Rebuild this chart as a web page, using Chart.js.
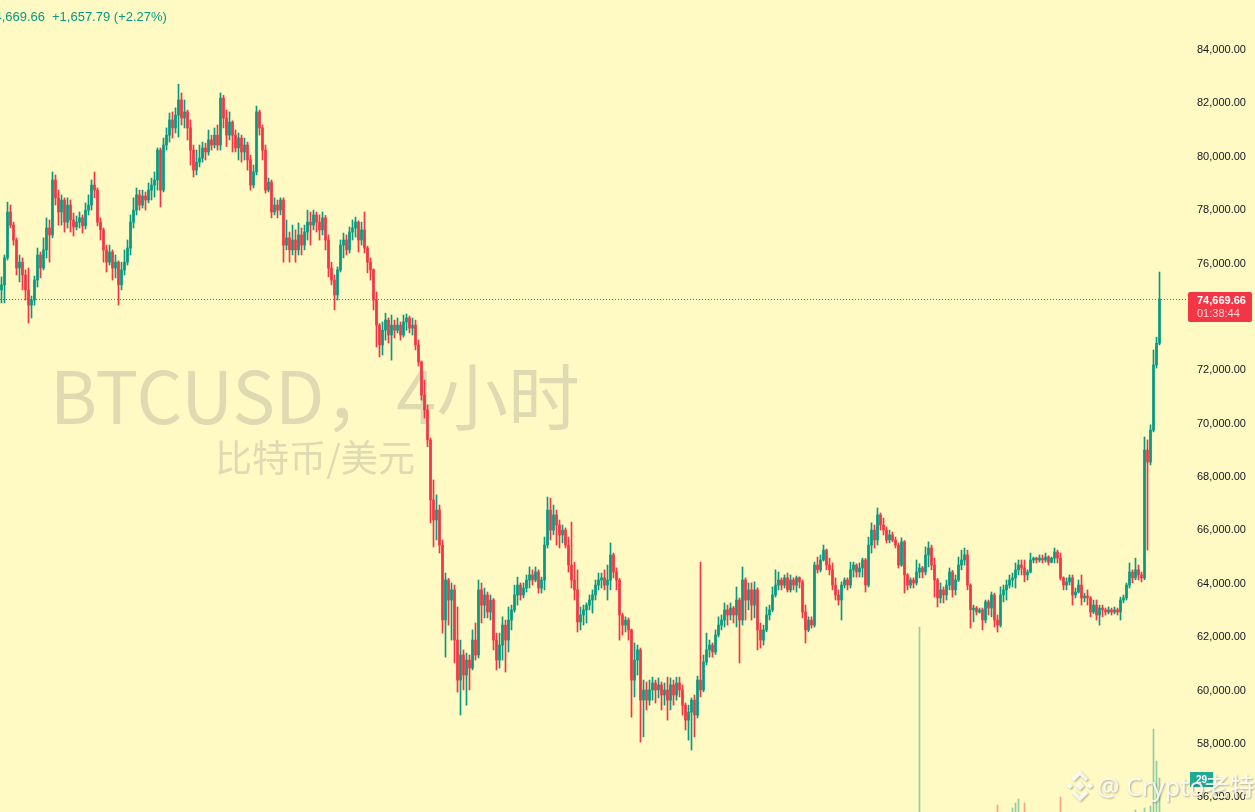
<!DOCTYPE html>
<html>
<head>
<meta charset="utf-8">
<title>BTCUSD 4小时</title>
<script src="https://cdn.jsdelivr.net/npm/chart.js@4.4.1/dist/chart.umd.min.js"></script>
<style>
  html, body { margin: 0; padding: 0; background: #fff9c4; }
  #wrap { width: 1255px; height: 812px; position: relative; }
</style>
</head>
<body>
<div id="wrap"><canvas id="btcChart"></canvas></div>
<script>
// 4小时 K线
const opens = [
  75010, 75200, 76210, 77930, 77440, 76880, 75830, 76050, 75570, 75010,
  74440, 74630, 75380, 76320, 75830, 76510, 77330, 77070, 79130, 78460,
  77930, 78380, 77550, 78190, 77630, 77370, 77550, 77710, 77410, 78000,
  78190, 78940, 78750, 77550, 77260, 76510, 76050, 76430, 75830, 76050,
  75200, 75760, 76050, 76580, 77550, 78000, 78570, 78190, 78530, 78380,
  78750, 78940, 79130, 80250, 78750, 80440, 80810, 81380, 81080, 81560,
  82130, 81450, 81680, 81080, 80250, 79500, 79800, 79950, 80330, 80180,
  80630, 80440, 80810, 80440, 82200, 81450, 80810, 81300, 80810, 80330,
  80700, 80180, 80440, 79880, 78940, 79430, 81680, 81080, 80250, 78750,
  79050, 77930, 78190, 78000, 78380, 76690, 76960, 76510, 76880, 76510,
  77070, 76690, 77180, 77550, 77440, 77820, 77550, 77260, 77710, 76880,
  75830, 75380, 74820, 75760, 76690, 76880, 76510, 77180, 77330, 77550,
  76880, 77260, 76580, 76050, 75760, 74630, 73690, 72950, 73500, 73880,
  73320, 73690, 73500, 73690, 73320, 73810, 73960, 73580, 73690, 72950,
  72310, 71070, 70510, 69390, 67140, 66390, 66760, 65450, 62640, 64140,
  63390, 63770, 61890, 60390, 61330, 60580, 61140, 60840, 61890, 61330,
  63770, 63200, 63580, 62940, 63390, 61890, 61140, 61700, 62450, 61890,
  62640, 63020, 63580, 63950, 63580, 63840, 64140, 64330, 64140, 64440,
  63840, 64140, 65450, 66760, 66010, 66580, 66200, 65830, 66010, 65450,
  64700, 64140, 63770, 62570, 62830, 63020, 63200, 63390, 63580, 63950,
  64140, 64220, 63950, 64140, 65080, 64440, 64140, 62830, 62450, 62640,
  62270, 60390, 61140, 61520, 59640, 60020, 59640, 60020, 60280, 60020,
  60210, 59830, 60020, 59640, 60210, 59830, 60280, 60020, 59450, 58890,
  59190, 59640, 59080, 60390, 60020, 61070, 61520, 61700, 61440, 62080,
  62450, 62640, 63020, 62830, 63090, 62830, 63390, 62640, 64140, 63390,
  63770, 63200, 63770, 62270, 61890, 62270, 62830, 63020, 63580, 63950,
  64140, 63950, 64220, 63770, 64140, 63950, 64220, 64070, 62940, 62270,
  62640, 62450, 64700, 64520, 64890, 65260, 64700, 64520, 63950, 63580,
  63390, 63950, 64140, 63950, 64520, 64700, 64440, 64590, 64890, 63950,
  65450, 66010, 65640, 66580, 66200, 66010, 65640, 65830, 65640, 65450,
  64700, 65570, 64330, 63950, 64140, 64030, 64440, 64590, 64440, 65080,
  65340, 64700, 64140, 63470, 63770, 63580, 63950, 64440, 63770, 64140,
  64700, 64890, 65080, 63950, 63020, 63090, 62940, 63020, 62640, 63320,
  63090, 63580, 62640, 62450, 63580, 63770, 63950, 64140, 64220, 64520,
  64700, 64590, 64330, 64440, 64890, 64960, 64890, 64960, 64890, 65000,
  64810, 64960, 65190, 64960, 64220, 63950, 64070, 64220, 63580, 63690,
  63950, 63470, 63540, 63470, 62940, 63200, 62830, 63090, 63020, 62940,
  63020, 62940, 63020, 62940, 63390, 63470, 63950, 64440, 64220, 64520,
  64330, 64220, 69010, 68560, 69760, 72200, 73011.87
];
const highs = [
  75500, 76320, 78300, 78190, 77550, 76960, 76320, 76210, 75760, 75830,
  74780, 75530, 76580, 76430, 76960, 77710, 77630, 79430, 79320, 78750,
  78570, 78460, 78460, 78380, 77890, 77780, 77930, 77820, 78270, 78570,
  79130, 79430, 78830, 77710, 77330, 76690, 76690, 76510, 76320, 76100,
  76050, 76510, 76880, 77820, 78460, 78830, 78750, 78750, 78680, 79020,
  79200, 79430, 80330, 80330, 80700, 81080, 81640, 81680, 81830, 82720,
  82390, 82130, 81750, 81380, 80440, 80250, 80440, 80550, 80510, 81000,
  80810, 81080, 81190, 82390, 82300, 81750, 81680, 81350, 81000, 80890,
  80810, 80700, 80550, 80060, 79690, 81900, 81750, 81190, 80440, 79200,
  79130, 78460, 78380, 78460, 78460, 77630, 77180, 77440, 77260, 77520,
  77330, 77440, 78000, 77930, 78000, 77930, 77820, 77930, 77800, 77070,
  76050, 75570, 75870, 76880, 77140, 77070, 77370, 77630, 77740, 77600,
  77550, 77930, 76650, 76210, 75800, 74930, 73750, 73810, 74140, 73960,
  74070, 73880, 73960, 73810, 74070, 74110, 74030, 73960, 73880, 73130,
  72350, 71630, 70700, 69460, 67890, 67330, 66950, 65640, 64400, 64200,
  64030, 63950, 63130, 61890, 61520, 61400, 61330, 62270, 62530, 64140,
  64030, 63840, 63690, 63580, 63450, 62150, 62150, 62760, 62640, 63130,
  63200, 63950, 64250, 64030, 64030, 64330, 64630, 64520, 64630, 64520,
  64250, 65750, 67250, 67210, 66950, 66760, 66390, 66200, 66090, 65750,
  66310, 64810, 64520, 63130, 63200, 63280, 63580, 63770, 64140, 64400,
  64400, 64520, 64700, 65530, 65150, 64590, 64200, 62900, 62760, 62720,
  62300, 61780, 61700, 61590, 60390, 60320, 60390, 60500, 60390, 60470,
  60320, 60280, 60500, 60470, 60390, 60500, 60500, 60210, 59530, 59450,
  59720, 59830, 60540, 64810, 61330, 62150, 61890, 61780, 62270, 62760,
  62830, 63280, 63200, 63280, 63150, 63880, 63470, 64630, 64220, 64030,
  64030, 64070, 63850, 62530, 62450, 63130, 63200, 63880, 64520, 64440,
  64220, 64330, 64400, 64330, 64220, 64290, 64260, 64140, 63200, 62760,
  62760, 64810, 65000, 65080, 65450, 65300, 64960, 64780, 64220, 63770,
  64070, 64220, 64220, 64810, 64810, 64750, 64780, 64960, 64950, 65750,
  66280, 66200, 66840, 66650, 66460, 66130, 66010, 65940, 65750, 65530,
  65720, 65620, 64380, 64220, 64220, 64890, 64750, 64650, 65380, 65570,
  65450, 64960, 64200, 64030, 63880, 64140, 64590, 64500, 64330, 65000,
  65260, 65340, 65260, 64000, 63200, 63150, 63090, 63090, 63390, 63390,
  63690, 63650, 62830, 63880, 63950, 64140, 64330, 64400, 64780, 64890,
  64890, 64890, 64520, 65150, 65000, 65000, 65080, 65080, 65150, 65050,
  65000, 65340, 65260, 65150, 64260, 64220, 64330, 64330, 63840, 64140,
  64330, 63650, 63770, 63520, 63390, 63390, 63200, 63200, 63090, 63130,
  63090, 63130, 63090, 63500, 63580, 64030, 64780, 64520, 64960, 64700,
  64440, 69500, 69390, 69950, 72760, 73240, 75680
];
const lows = [
  74520, 74520, 76130, 77330, 76690, 75570, 75310, 75010, 74630, 73770,
  73960, 74440, 75120, 75460, 75760, 76210, 76050, 76960, 78190, 77440,
  77440, 77180, 77330, 77180, 77030, 77260, 77330, 77140, 77290, 77820,
  78000, 78460, 77410, 76880, 76050, 75680, 75940, 75380, 75460, 74440,
  75010, 75570, 75940, 76320, 77330, 77820, 78000, 78080, 78000, 78270,
  78380, 78490, 78750, 78120, 78680, 80250, 80550, 80700, 80890, 80740,
  81190, 81080, 80630, 79690, 79240, 79320, 79620, 79800, 79880, 80060,
  80250, 80330, 80250, 80250, 81080, 80380, 80630, 80180, 80180, 79880,
  79800, 79880, 79500, 78750, 78830, 79320, 80810, 79880, 78640, 78680,
  77710, 77820, 77710, 77820, 76050, 76510, 76050, 76320, 76050, 76320,
  76320, 76510, 76880, 76690, 77260, 77180, 76880, 77070, 76510, 75500,
  75200, 74260, 74630, 75680, 76210, 76320, 76390, 76880, 76990, 76430,
  76690, 76390, 75650, 75380, 74260, 72870, 72500, 72570, 73130, 73020,
  72380, 73210, 73400, 73130, 73240, 73500, 73400, 73320, 72760, 72160,
  70880, 70210, 69130, 66280, 65380, 65640, 65150, 62150, 61250, 62450,
  61890, 61030, 59940, 59080, 60020, 59450, 60020, 60770, 61140, 61220,
  62530, 62720, 62720, 62640, 61520, 60770, 60840, 61140, 60690, 61440,
  62270, 62940, 63200, 63390, 63470, 63690, 63840, 63950, 64070, 63650,
  63650, 63770, 65340, 65640, 65830, 65450, 65340, 65530, 65340, 64440,
  63840, 63390, 62190, 62270, 62450, 62530, 63020, 62900, 63390, 63770,
  63840, 63770, 63390, 63770, 64220, 63770, 61890, 62080, 62190, 61890,
  59000, 59760, 60580, 58070, 58260, 59270, 59450, 59640, 59530, 59720,
  59270, 59450, 58890, 59270, 59450, 59640, 59760, 59080, 58520, 58140,
  57770, 58260, 58970, 59760, 59950, 60960, 61250, 61250, 61350, 62000,
  62270, 62380, 62450, 62640, 62530, 62380, 61030, 62450, 62640, 63020,
  62640, 62720, 61520, 61590, 61700, 62200, 62640, 62950, 63500, 63770,
  63770, 63840, 63690, 63690, 63770, 63690, 63840, 62720, 61780, 62200,
  62340, 62380, 64400, 64440, 64850, 64520, 64330, 63770, 63390, 63200,
  62640, 63840, 63770, 63840, 64250, 64250, 64250, 64250, 63690, 63880,
  65150, 65340, 65450, 66010, 65830, 65530, 65530, 65570, 65340, 64590,
  64650, 63650, 63770, 63840, 63840, 63950, 64220, 64220, 64330, 64630,
  64520, 63500, 63130, 63280, 63280, 63390, 63770, 63500, 63580, 64080,
  64520, 64700, 63770, 62340, 62570, 62830, 62900, 62270, 62530, 62830,
  62760, 62380, 62190, 62380, 63320, 63390, 63840, 63880, 63840, 64330,
  64330, 64070, 64140, 64400, 64780, 64780, 64810, 64780, 64810, 64700,
  64780, 64780, 64780, 64140, 63770, 63770, 63950, 63200, 63470, 63650,
  63200, 63320, 63200, 62760, 62880, 62640, 62450, 62760, 62830, 62870,
  62830, 62870, 62830, 62640, 63280, 63390, 63840, 64030, 64150, 64140,
  64070, 64150, 65260, 68450, 69690, 72080, 72950
];
const closes = [
  75200, 76210, 77930, 77440, 76880, 75830, 76050, 75570, 75010, 74440,
  74630, 75380, 76320, 75830, 76510, 77330, 77070, 79130, 78460, 77930,
  78380, 77550, 78190, 77630, 77370, 77550, 77710, 77410, 78000, 78190,
  78940, 78750, 77550, 77260, 76510, 76050, 76430, 75830, 76050, 75200,
  75760, 76050, 76580, 77550, 78000, 78570, 78190, 78530, 78380, 78750,
  78940, 79130, 80250, 78750, 80440, 80810, 81380, 81080, 81560, 82130,
  81450, 81680, 81080, 80250, 79500, 79800, 79950, 80330, 80180, 80630,
  80440, 80810, 80440, 82200, 81450, 80810, 81300, 80810, 80330, 80700,
  80180, 80440, 79880, 78940, 79430, 81680, 81080, 80250, 78750, 79050,
  77930, 78190, 78000, 78380, 76690, 76960, 76510, 76880, 76510, 77070,
  76690, 77180, 77550, 77440, 77820, 77550, 77260, 77710, 76880, 75830,
  75380, 74820, 75760, 76690, 76880, 76510, 77180, 77330, 77550, 76880,
  77260, 76580, 76050, 75760, 74630, 73690, 72950, 73500, 73880, 73320,
  73690, 73500, 73690, 73320, 73810, 73960, 73580, 73690, 72950, 72310,
  71070, 70510, 69390, 67140, 66390, 66760, 65450, 62640, 64140, 63390,
  63770, 61890, 60390, 61330, 60580, 61140, 60840, 61890, 61330, 63770,
  63200, 63580, 62940, 63390, 61890, 61140, 61700, 62450, 61890, 62640,
  63020, 63580, 63950, 63580, 63840, 64140, 64330, 64140, 64440, 63840,
  64140, 65450, 66760, 66010, 66580, 66200, 65830, 66010, 65450, 64700,
  64140, 63770, 62570, 62830, 63020, 63200, 63390, 63580, 63950, 64140,
  64220, 63950, 64140, 65080, 64440, 64140, 62830, 62450, 62640, 62270,
  60390, 61140, 61520, 59640, 60020, 59640, 60020, 60280, 60020, 60210,
  59830, 60020, 59640, 60210, 59830, 60280, 60020, 59450, 58890, 59190,
  59640, 59080, 60390, 60020, 61070, 61520, 61700, 61440, 62080, 62450,
  62640, 63020, 62830, 63090, 62830, 63390, 62640, 64140, 63390, 63770,
  63200, 63770, 62270, 61890, 62270, 62830, 63020, 63580, 63950, 64140,
  63950, 64220, 63770, 64140, 63950, 64220, 64070, 62940, 62270, 62640,
  62450, 64700, 64520, 64890, 65260, 64700, 64520, 63950, 63580, 63390,
  63950, 64140, 63950, 64520, 64700, 64440, 64590, 64890, 63950, 65450,
  66010, 65640, 66580, 66200, 66010, 65640, 65830, 65640, 65450, 64700,
  65570, 64330, 63950, 64140, 64030, 64440, 64590, 64440, 65080, 65340,
  64700, 64140, 63470, 63770, 63580, 63950, 64440, 63770, 64140, 64700,
  64890, 65080, 63950, 63020, 63090, 62940, 63020, 62640, 63320, 63090,
  63580, 62640, 62450, 63580, 63770, 63950, 64140, 64220, 64520, 64700,
  64590, 64330, 64440, 64890, 64960, 64890, 64960, 64890, 65000, 64810,
  64960, 65190, 64960, 64220, 63950, 64070, 64220, 63580, 63690, 63950,
  63470, 63540, 63470, 62940, 63200, 62830, 63090, 63020, 62940, 63020,
  62940, 63020, 62940, 63390, 63470, 63950, 64440, 64220, 64520, 64330,
  64220, 69010, 68560, 69760, 72200, 73011.87, 74669.66
];

// 成交量: only the bars that show above the bottom edge
const volIndex = [306, 332, 337, 338, 339, 341, 353, 378, 381, 383, 384, 385, 386];
const volValue = [5700, 2140, 2080, 2180, 2260, 2180, 2300, 2040, 2080, 2120, 3660, 3020, 2680];

const priceTicks = [56000, 58000, 60000, 62000, 64000, 66000, 68000, 70000,
  72000, 74000, 76000, 78000, 80000, 82000, 84000];
const emptySlots = 8;

const symbolTitle = 'BTCUSD，4小时';
const symbolDesc = '比特币/美元';
const countdown = '01:38:44';
const volLabel = '29';
const brandText = '@ Crypto老特';

const UP = '#089981';
const DOWN = '#f23645';
const UP_VOL = 'rgba(8,153,129,0.45)';
const DOWN_VOL = 'rgba(242,54,69,0.45)';
const FONT = "'Liberation Sans', Arial, sans-serif";

const last = closes.length - 1;
const lastClose = closes[last];
const lastChange = lastClose - opens[last];
const lastPct = lastChange / opens[last] * 100;

function fmt(v) {
  return v.toLocaleString('en-US', { minimumFractionDigits: 2, maximumFractionDigits: 2 });
}

const isUp = closes.map((c, i) => c >= opens[i]);
const candleColors = isUp.map(u => u ? UP : DOWN);
const volColors = isUp.map(u => u ? UP_VOL : DOWN_VOL);

const slotLabels = closes.map((_, i) => String(i)).concat(Array(emptySlots).fill(''));
const wickData = lows.map((l, i) => [l, highs[i]]);
const bodyData = opens.map((o, i) => [o, closes[i]]);
const volData = closes.map(() => null);
volIndex.forEach((k, j) => { volData[k] = volValue[j]; });

function fitFont(ctx, text, width, family) {
  ctx.font = `100px ${family}`;
  const size = 100 * width / ctx.measureText(text).width;
  ctx.font = `${size}px ${family}`;
}

const overlay = {
  id: 'overlay',
  beforeDatasetsDraw(chart) {
    const { ctx, chartArea } = chart;
    ctx.save();
    // 水印
    ctx.fillStyle = 'rgba(110,110,110,0.22)';
    ctx.textAlign = 'center';
    ctx.textBaseline = 'alphabetic';
    fitFont(ctx, symbolTitle, 530, "'Noto Sans CJK SC', sans-serif");
    ctx.fillText(symbolTitle, 315, 424);
    fitFont(ctx, symbolDesc, 200, "'Noto Sans CJK SC', sans-serif");
    ctx.fillText(symbolDesc, 315, 472);

    // 当前价格点线
    const y = Math.round(chart.scales.y.getPixelForValue(lastClose));
    ctx.fillStyle = DOWN;
    for (let x = Math.round(chartArea.left); x < chartArea.right + 2; x += 3) {
      ctx.fillRect(x, y, 1, 1);
    }
    ctx.restore();
  },
  afterDraw(chart) {
    const { ctx } = chart;
    const y = Math.round(chart.scales.y.getPixelForValue(lastClose));
    ctx.save();

    // price tag
    ctx.fillStyle = DOWN;
    ctx.beginPath();
    ctx.roundRect(1188, y - 7, 64, 30, 2);
    ctx.fill();
    ctx.textAlign = 'left';
    ctx.textBaseline = 'middle';
    ctx.fillStyle = '#ffffff';
    ctx.font = `bold 11px ${FONT}`;
    ctx.fillText(fmt(lastClose), 1197, y + 2);
    ctx.fillStyle = 'rgba(255,255,255,0.78)';
    ctx.font = `11px ${FONT}`;
    ctx.fillText(countdown, 1197, y + 15);

    // top-left legend
    ctx.fillStyle = UP;
    ctx.font = `13px ${FONT}`;
    ctx.textAlign = 'right';
    ctx.fillText(fmt(lastClose), 45, 17);
    ctx.textAlign = 'left';
    const sign = lastChange >= 0 ? '+' : '';
    ctx.fillText(`${sign}${fmt(lastChange)} (${sign}${lastPct.toFixed(2)}%)`, 52, 17);

    // volume tag
    ctx.fillStyle = '#22ab94';
    ctx.fillRect(1190, 772, 23, 15);
    ctx.fillStyle = '#ffffff';
    ctx.font = `bold 10px ${FONT}`;
    ctx.textAlign = 'center';
    ctx.fillText(volLabel, 1201.5, 780);

    // brand watermark
    ctx.shadowColor = 'rgba(0,0,0,0.35)';
    ctx.shadowBlur = 2;
    ctx.shadowOffsetX = 1;
    ctx.shadowOffsetY = 1;
    ctx.fillStyle = 'rgba(255,255,255,0.85)';
    const cx = 1080, cy = 786;
    const diamond = (x, yy, r) => {
      ctx.beginPath();
      ctx.moveTo(x, yy - r); ctx.lineTo(x + r, yy); ctx.lineTo(x, yy + r); ctx.lineTo(x - r, yy);
      ctx.closePath(); ctx.fill();
    };
    diamond(cx, cy, 4.5);
    diamond(cx - 10, cy, 3);
    diamond(cx + 10, cy, 3);
    ctx.strokeStyle = 'rgba(255,255,255,0.85)';
    ctx.lineWidth = 3.5;
    ctx.beginPath();
    ctx.moveTo(cx - 7, cy - 6); ctx.lineTo(cx, cy - 13); ctx.lineTo(cx + 7, cy - 6);
    ctx.moveTo(cx - 7, cy + 6); ctx.lineTo(cx, cy + 13); ctx.lineTo(cx + 7, cy + 6);
    ctx.stroke();
    ctx.font = "25px 'Noto Sans', 'Noto Sans CJK SC', sans-serif";
    ctx.textAlign = 'left';
    ctx.textBaseline = 'alphabetic';
    ctx.fillText(brandText, 1097, 796);
    ctx.restore();
  }
};

new Chart(document.getElementById('btcChart'), {
  type: 'bar',
  data: {
    labels: slotLabels,
    datasets: [
      {
        label: 'wick',
        data: wickData,
        backgroundColor: candleColors,
        barThickness: 1,
        grouped: false,
        borderWidth: 0,
        yAxisID: 'y'
      },
      {
        label: 'body',
        data: bodyData,
        backgroundColor: candleColors,
        barThickness: 2,
        minBarLength: 1,
        grouped: false,
        borderWidth: 0,
        yAxisID: 'y'
      },
      {
        label: 'volume',
        data: volData,
        backgroundColor: volColors,
        barThickness: 1,
        grouped: false,
        borderWidth: 0,
        yAxisID: 'yv'
      }
    ]
  },
  options: {
    responsive: true,
    maintainAspectRatio: false,
    animation: false,
    events: [],
    layout: { padding: 0 },
    plugins: {
      legend: { display: false },
      tooltip: { enabled: false }
    },
    scales: {
      x: {
        type: 'category',
        display: false,
        offset: true
      },
      y: {
        position: 'right',
        min: 55447,
        max: 85874,
        grid: { display: false, drawTicks: false },
        border: { display: false },
        afterFit: (axis) => {
          axis.width = 70;
          axis.paddingTop = 0;
          axis.paddingBottom = 0;
        },
        afterBuildTicks: (axis) => { axis.ticks = priceTicks.map(v => ({ value: v })); },
        ticks: {
          padding: 12,
          color: '#131722',
          font: { family: FONT, size: 11 },
          callback: (v) => fmt(v)
        }
      },
      yv: {
        display: false,
        min: 2000,
        max: 18240
      }
    }
  },
  plugins: [overlay]
});
</script>
</body>
</html>
